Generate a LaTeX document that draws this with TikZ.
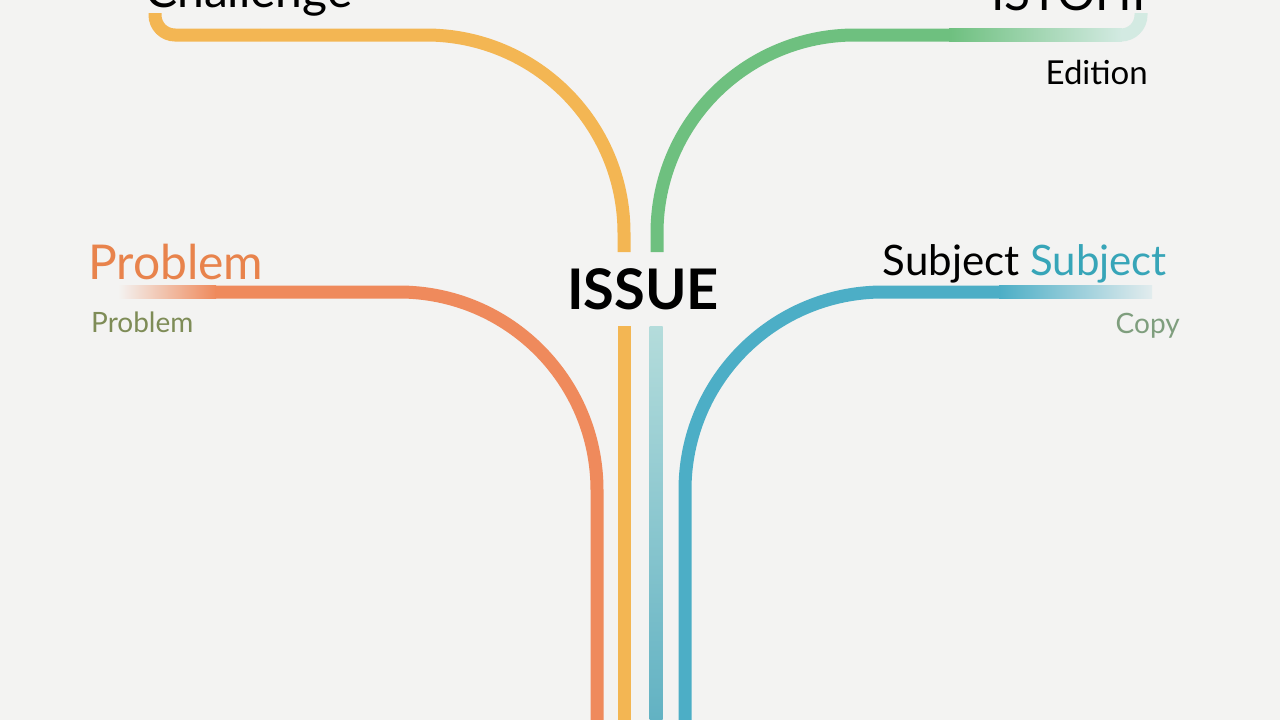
\documentclass[tikz,border=0pt]{standalone}
\usepackage{fontspec}
\setmainfont{Lato}
\usetikzlibrary{positioning}
\definecolor{bgC}{HTML}{F3F3F2}
\definecolor{orangeC}{HTML}{EF8A5C}
\definecolor{yellowC}{HTML}{F3B653}
\definecolor{greenC}{HTML}{6EC07F}
\definecolor{paleGreen}{HTML}{D3EAE2}
\definecolor{blueC}{HTML}{4CAEC6}
\definecolor{paleTeal}{HTML}{B4DCDB}
\definecolor{tealC}{HTML}{62B2C3}
\definecolor{probText}{HTML}{E8834C}
\definecolor{oliveC}{HTML}{7E8C57}
\definecolor{subjText}{HTML}{37A5B8}
\definecolor{copyC}{HTML}{7F9E7E}

\begin{document}
\begin{tikzpicture}[
        x=1pt, y=-1pt,
        branch/.style={line width=13pt, rounded corners=198pt},
        hook/.style={line width=13pt, rounded corners=20pt},
        stem/.style={line width=13pt},
        title/.style={inner sep=0pt, font=\fontsize{48}{58}\selectfont},
        sub/.style={inner sep=0pt, font=\fontsize{28}{34}\selectfont}
    ]
        % Background
        \fill[bgC] (0,0) rectangle (1280,720);
        \useasboundingbox (0,0) rectangle (1280,720);
        \clip (0,0) rectangle (1280,720);

        % Define bend points
        \coordinate (chalTip) at (155,13);
        \coordinate (chalMid) at (260,35);
        \coordinate (chalTop) at (624,252);
        \coordinate (chalLow) at (624,326);
        \coordinate (chalBot) at (624,730);
        \coordinate (edTop) at (657,252);
        \coordinate (edMid) at (950,35);
        \coordinate (edEnd) at (1121,35);
        \coordinate (edTip) at (1141,13);
        \coordinate (probL) at (215,292);
        \coordinate (probBot) at (597,730);
        \coordinate (subjBot) at (685,730);
        \coordinate (subjMid) at (1000,292);

        % Labels
        \node[title, anchor=base west] (CHAL) at (145,8) {Challenge};
        \node[title, anchor=base east] (ISTO) at (1146,10) {ISTOHI};
        \node[inner sep=0pt, anchor=base east, font=\fontsize{33}{40}\selectfont] (EDIT) at (1148,84) {Edition};
        \node[title, anchor=base west, text=probText] (PROB) at (88,279) {Problem};
        \node[sub, anchor=base west, text=oliveC] (PROBS) at (91,332) {Problem};
        \node[inner sep=0pt, anchor=base east, font=\fontsize{42}{50}\selectfont] (SUBJ) at (1167,275) {Subject \textcolor{subjText}{Subject}};
        \node[sub, anchor=base east, text=copyC] (COPY) at (1180,333) {Copy};
        \node[inner sep=0pt, font=\fontsize{56}{64}\selectfont\bfseries] (ISSUE) at (643,289) {ISSUE};

        % Challenge branch
        \draw[hook, yellowC] (chalTip) |- (chalMid);
        \draw[branch, yellowC] (chalMid) -| (chalTop);
        \draw[stem, yellowC] (chalLow) -- (chalBot);

        % Edition branch
        \draw[branch, greenC] (edTop) |- (edMid);
        \shade[left color=greenC, right color=paleGreen] (949,28.5) rectangle (1122,41.5);
        \draw[hook, paleGreen] (edEnd) -| (edTip);

        % Teal stem under ISSUE
        \shade[top color=paleTeal, bottom color=tealC] (649.5,326) rectangle (662.5,720);

        % Problem branch
        \shade[left color=bgC, right color=orangeC] (118,285.5) rectangle (216,298.5);
        \draw[branch, orangeC] (probL) -| (probBot);

        % Subject branch
        \draw[branch, blueC] (subjBot) |- (subjMid);
        \shade[left color=blueC, right color=bgC!90!blueC] (999,285.5) rectangle (1152,298.5);

    \end{tikzpicture}
\end{document}
